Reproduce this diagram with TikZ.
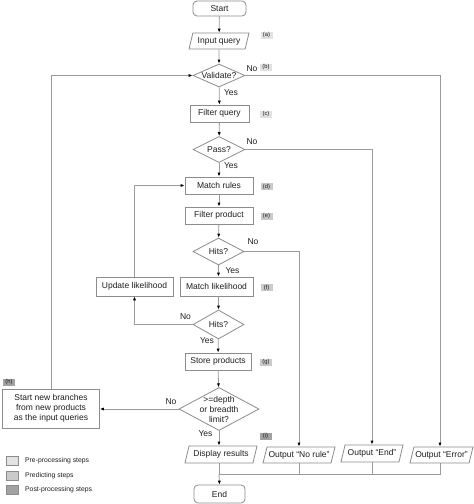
\documentclass[tikz,border=0pt]{standalone}
\usepackage{fontspec}
\setmainfont{Liberation Sans}
\usetikzlibrary{shapes.geometric,arrows.meta}
\definecolor{lnc}{HTML}{9A9A9A}
\definecolor{bdc}{HTML}{8C8C8C}
\definecolor{txc}{HTML}{1E1E1E}
\definecolor{prec}{HTML}{E2E2E2}
\definecolor{midc}{HTML}{CACACA}
\definecolor{postc}{HTML}{A2A2A2}
\begin{document}
\begin{tikzpicture}[x=1pt,y=-1pt,
  base/.style={draw=bdc, line width=0.8pt, text=txc, font=\fontsize{8.5}{10}\selectfont, inner sep=0pt},
  box/.style={base, rectangle, minimum height=17pt},
  term/.style={base, rectangle, rounded corners=4pt},
  para/.style={base, trapezium, trapezium left angle=63, trapezium right angle=117, trapezium stretches body, minimum height=16pt},
  dia/.style={base, diamond},
  lab/.style={text=txc, font=\fontsize{8.5}{10}\selectfont, inner sep=0pt},
  tag/.style={fill=#1, text=txc, font=\fontsize{5.8}{6}\selectfont, inner sep=0pt, minimum width=12pt, minimum height=7pt},
  lgd/.style={fill=#1, draw=bdc, line width=0.6pt, minimum width=12pt, minimum height=9pt, inner sep=0pt},
  lgt/.style={text=txc, font=\fontsize{6.8}{7}\selectfont, inner sep=0pt, anchor=west},
  ln/.style={draw=lnc, line width=0.8pt},
  arr/.style={ln, -{Latex[length=4pt,width=3.2pt,color=black]}},
]
\useasboundingbox[fill=white] (0,0) rectangle (474,504);

% nodes
\node[term, minimum width=53pt, minimum height=15pt] (start) at (219.5,8.5) {Start};
\node[para, minimum width=60pt] (inq) at (219,41) {Input query};
\node[dia, minimum width=52pt, minimum height=23pt] (val) at (219,75.5) {};
\node[lab] (valt) at (val) {Validate?};
\node[box, minimum width=59pt] (fq) at (219.5,113.5) {Filter query};
\node[dia, minimum width=52pt, minimum height=26pt] (pass) at (219,149.5) {};
\node[lab] (passt) at (pass) {Pass?};
\node[box, minimum width=68pt] (mr) at (219,185.5) {Match rules};
\node[box, minimum width=68pt] (fp) at (219,215.5) {Filter product};
\node[dia, minimum width=51pt, minimum height=27pt] (hitsa) at (218.5,251.5) {};
\node[lab] (hitsat) at (hitsa) {Hits?};
\node[box, minimum width=73pt, minimum height=19pt] (ml) at (216.5,286.5) {Match likelihood};
\node[box, minimum width=77pt, minimum height=19pt] (ul) at (134.5,286.5) {Update likelihood};
\node[dia, minimum width=51pt, minimum height=29pt] (hitsb) at (218.5,324.5) {};
\node[lab] (hitsbt) at (hitsb) {Hits?};
\node[box, minimum width=66pt] (sp) at (218,361.5) {Store products};
\node[dia, minimum width=80pt, minimum height=43pt] (depth) at (219,409) {};
\node[lab, align=center] (deptht) at (depth) {>=depth\\or breadth\\limit?};
\node[box, minimum width=97pt, minimum height=39pt, align=center] (snb) at (51,408.5) {Start new branches\\from new products\\as the input queries};
\node[para, minimum width=72pt, minimum height=17pt] (dr) at (221,454.5) {Display results};
\node[para, minimum width=72pt] (onr) at (299,455) {Output “No rule”};
\node[para, minimum width=62pt, minimum height=17pt] (oend) at (372,453.5) {Output “End”};
\node[para, minimum width=63pt] (oerr) at (441.5,455) {Output “Error”};
\node[term, minimum width=51pt, minimum height=18pt] (end) at (219.5,494) {End};
\coordinate (mj) at (219,474);

% tags
\node[tag=prec] (ta) at (266.5,35) {(a)};
\node[tag=prec] (tb) at (266,67) {(b)};
\node[tag=prec] (tc) at (266,114) {(c)};
\node[tag=midc] (td) at (266.5,186.5) {(d)};
\node[tag=midc] (te) at (266.5,216) {(e)};
\node[tag=midc] (tf) at (266.5,287.5) {(f)};
\node[tag=midc] (tg) at (266,362) {(g)};
\node[tag=postc] (th) at (9,382) {(h)};
\node[tag=postc] (ti) at (265.5,436) {(i)};

% legend
\node[lgd=prec] (l1) at (12,461) {};
\node[lgd=midc] (l2) at (12,475.5) {};
\node[lgd=postc] (l3) at (12,489.5) {};
\node[lgt] (l1t) at (25,461) {Pre-processing steps};
\node[lgt] (l2t) at (25,475.5) {Predicting steps};
\node[lgt] (l3t) at (25,489.5) {Post-processing steps};

% connectors
\draw[arr] (start) -- (inq);
\draw[arr] (inq) -- (val);
\draw[arr] (val) -- (fq);
\draw[arr] (fq) -- (pass);
\draw[arr] (pass) -- (mr);
\draw[arr] (mr) -- (fp);
\draw[arr] (fp) -- (hitsa);
\draw[arr] (hitsa.south) -- (hitsa.south |- ml.north);
\draw[arr] (ml.south -| hitsb.north) -- (hitsb.north);
\draw[arr] (hitsb) -- (sp);
\draw[arr] (sp) -- (depth);
\draw[arr] (depth.south) -- (depth.south |- dr.north);
\draw[ln] (depth.south |- dr.south) -- (mj);
\draw[arr] (mj) -- (end.north);
\draw[ln] (onr.south -| 299,0) |- (mj);
\draw[ln] (oend.south -| 372,0) |- (mj);
\draw[ln] (oerr.south -| 440,0) |- (mj);
\draw[arr] (val.east) -| (440,0 |- oerr.north);
\draw[arr] (pass.east) -| (372,0 |- oend.north);
\draw[arr] (hitsa.east) -| (299,0 |- onr.north);
\draw[arr] (hitsb.west) -| (ul.south);
\draw[arr] (ul.north) |- (mr.west);
\draw[arr] (depth.west) -- (depth.west -| snb.east);
\draw[arr] (snb.north) |- (val.west);

% branch labels
\node[lab] (y1) at (231,93) {Yes};
\node[lab] (y2) at (231,166) {Yes};
\node[lab] (y3) at (232.5,271) {Yes};
\node[lab] (y4) at (207,341) {Yes};
\node[lab] (y5) at (205.5,434) {Yes};
\node[lab] (n1) at (252,69) {No};
\node[lab] (n2) at (252,142) {No};
\node[lab] (n3) at (253,242) {No};
\node[lab] (n4) at (185.5,317) {No};
\node[lab] (n5) at (171,402) {No};
\end{tikzpicture}
\end{document}
